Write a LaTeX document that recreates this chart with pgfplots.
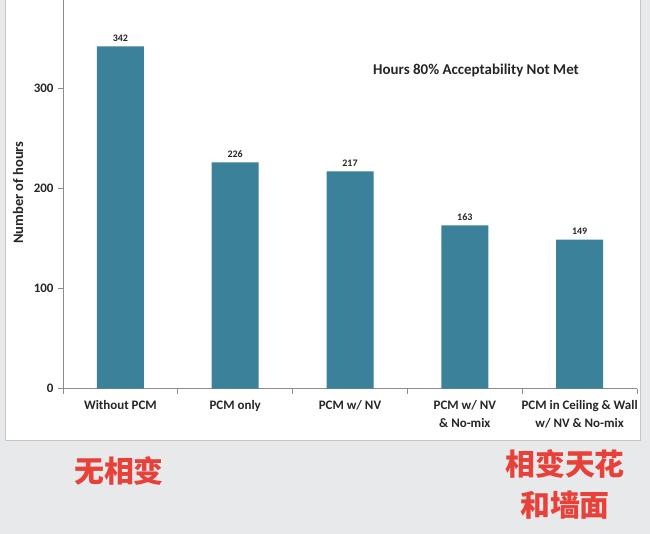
\documentclass[border=0pt]{standalone}
\usepackage{pgfplots}
\pgfplotsset{compat=1.18}
\usepackage{fontspec}
\setmainfont{Carlito}
\newfontfamily\cjk[BoldFont={* Black}]{Noto Sans CJK SC}
\definecolor{barcol}{HTML}{3B8199}
\definecolor{cnred}{HTML}{E8413A}
\definecolor{bggray}{HTML}{E8E9EB}
\definecolor{axgray}{HTML}{8C8C8C}
\begin{document}
\begin{tikzpicture}[x=1bp,y=1bp]
\fill[bggray] (0,0) rectangle (650,533);
\fill[white] (5,93) rectangle (640,533);
\draw[gray!45,line width=1bp] (5,533) -- (5,93) -- (640,93) -- (640,533);
\begin{axis}[
  at={(63bp,145bp)}, anchor=south west,
  scale only axis, width=574bp, height=388bp,
  xmin=-0.5, xmax=4.5, ymin=0, ymax=388,
  axis lines=left, axis line style={-, draw=axgray, line width=1bp},
  ytick={0,100,200,300},
  xtick={0,1,2,3,4},
  xticklabels={Without PCM, PCM only, PCM w/ NV, {PCM w/ NV\\\& No-mix}, {PCM in Ceiling \& Wall\\w/ NV \& No-mix}},
  minor xtick={-0.5,0.5,1.5,2.5,3.5,4.5},
  major x tick style={draw=none},
  minor tick length=5bp, major tick length=5bp,
  tick align=outside,
  tick style={draw=axgray, line width=0.8bp},
  ticklabel style={font=\fontsize{13}{18}\selectfont\bfseries, text=black!85},
  xticklabel style={align=center, yshift=-3bp},
  yticklabel style={xshift=-1bp},
  /pgf/number format/assume math mode=true,
  ybar, bar width=47bp,
  nodes near coords,
  every node near coord/.append style={font=\fontsize{10}{12}\selectfont\bfseries, text=black!85, yshift=1bp},
  clip=false,
]
\addplot[fill=barcol, draw=none] coordinates {(0,342) (1,226) (2,217) (3,163) (4,149)};
\end{axis}
\node[font=\fontsize{15}{17}\selectfont\bfseries, text=black!85] at (476,463) {Hours 80\% Acceptability Not Met};
\node[rotate=90, font=\fontsize{14.5}{17}\selectfont\bfseries, text=black!85] at (18,341) {Number of hours};
\node[font=\cjk\bfseries\fontsize{30}{34}\selectfont, text=cnred] at (119,63) {无相变};
\node[font=\cjk\bfseries\fontsize{30}{34}\selectfont, text=cnred] at (565,70) {相变天花};
\node[font=\cjk\bfseries\fontsize{30}{34}\selectfont, text=cnred] at (565,28) {和墙面};
\end{tikzpicture}
\end{document}
